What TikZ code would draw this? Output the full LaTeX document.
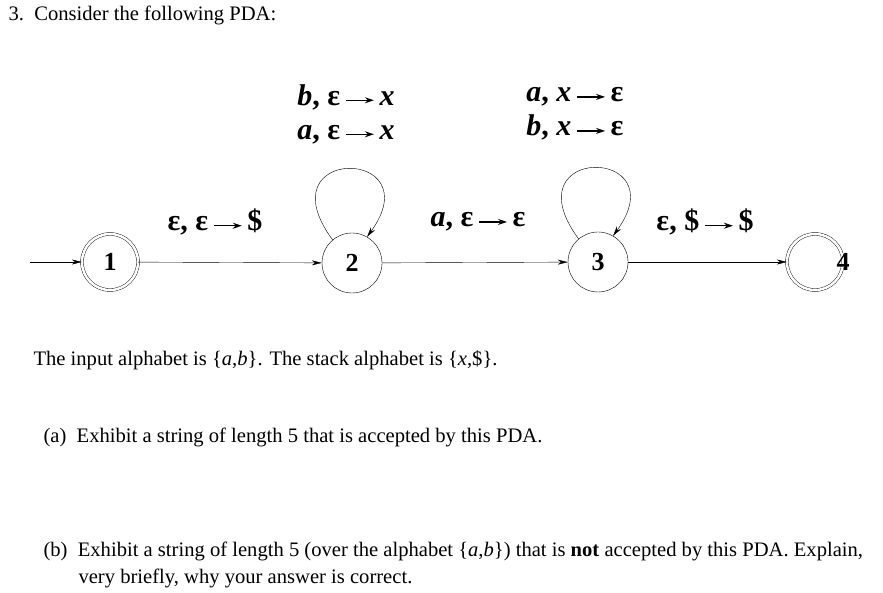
\documentclass[tikz,border=0pt]{standalone}
\usepackage{fontspec}
\setmainfont{Liberation Serif}
\usetikzlibrary{arrows.meta}
\newcommand{\myarr}{\,\tikz[baseline=-0.35ex]\draw[-{Stealth[length=9pt,width=6pt]},line width=1.3pt] (0pt,0pt) -- (28pt,0pt);\,}
\begin{document}
\begin{tikzpicture}[x=1pt,y=-1pt,
  st/.style={circle,draw,minimum size=60pt,inner sep=0pt,font=\fontsize{26}{26}\selectfont\bfseries},
  acc/.style={st,double,double distance=2.5pt,minimum size=56pt},
  arr/.style={-{Stealth[length=10pt,width=5pt]},thin},
  lab/.style={font=\fontsize{30}{34}\selectfont\bfseries,align=center},
  txt/.style={anchor=west,font=\fontsize{20.6}{24}\selectfont}]
\useasboundingbox (0,0) rectangle (883,593);
\node[acc] (s1) at (110,262) {1};
\node[st] (s2) at (352,263) {2};
\node[st] (s3) at (598,262) {3};
\node[acc] (s4) at (815,262) {};
\node[font=\fontsize{26}{26}\selectfont\bfseries] (n4) at (843,262) {4};
\coordinate (in) at (30,262);
\draw[arr] (in) -- (s1);
\draw[arr] (s1) -- (s2);
\draw[arr] (s2) -- (s3);
\draw[arr] (s3) -- (s4);
\draw[arr] (s2.130) .. controls +(-70,-95) and +(65,-90) .. (s2.60);
\draw[arr] (s3.130) .. controls +(-70,-95) and +(65,-90) .. (s3.60);
\node[lab] (l12) at (215,222) {ε, ε\myarr\$};
\node[lab] (l23) at (478,222) {\textit{a}, ε\myarr ε};
\node[lab] (l34) at (705,222) {ε, \$\myarr\$};
\node[lab] (l2) at (346,114) {\textit{b}, ε\myarr\textit{x}\\\textit{a}, ε\myarr\textit{x}};
\node[lab] (l3) at (575,114) {\textit{a}, \textit{x}\myarr ε\\\textit{b}, \textit{x}\myarr ε};
\node[txt] (t0) at (5,15) {3.\ \ Consider the following PDA:};
\node[txt] (t1) at (30,360) {The input alphabet is \{\textit{a},\textit{b}\}. The stack alphabet is \{\textit{x},\$\}.};
\node[txt] (t2) at (40,437) {(a)\ \ Exhibit a string of length 5 that is accepted by this PDA.};
\node[txt] (t3) at (40,551) {(b)\ \ Exhibit a string of length 5 (over the alphabet \{\textit{a},\textit{b}\}) that is \textbf{not} accepted by this PDA. Explain,};
\node[txt] (t4) at (75,578) {very briefly, why your answer is correct.};
\end{tikzpicture}
\end{document}
